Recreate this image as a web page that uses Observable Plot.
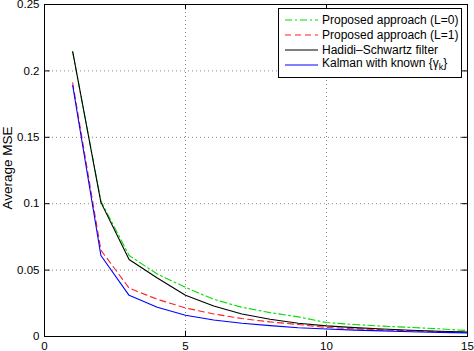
<!DOCTYPE html>
<html>
<head>
<meta charset="utf-8">
<script src="https://cdn.jsdelivr.net/npm/d3@7"></script>
<script src="https://cdn.jsdelivr.net/npm/@observablehq/plot@0.6"></script>
<style>
  html, body { margin: 0; padding: 0; background: #fff; }
  #wrap { position: relative; width: 474px; height: 351px; font-family: "Liberation Sans", Arial, sans-serif; }
  #legend {
    position: absolute; left: 278px; top: 8px; width: 184px; height: 70px;
    background: #fff; border: 1px solid #000; box-sizing: border-box;
    font-size: 12px; color: #000;
  }
  .row { position: absolute; left: 0; height: 15px; display: flex; align-items: center; }
  .row svg { margin-left: 6px; margin-right: 4px; }
  #ylab {
    position: absolute; left: 7px; top: 168px; transform: translate(-50%, -50%) rotate(-90deg);
    font-size: 13.5px; white-space: nowrap;
  }
</style>
</head>
<body>
<div id="wrap">
  <div id="chart"></div>
  <div id="legend"></div>
  <div id="ylab">Average MSE</div>
</div>
<script>
const steps = [1, 2, 3, 4, 5, 6, 7, 8, 9, 10, 11, 12, 13, 14, 15];
const proposedL0 = [0.214, 0.102, 0.061, 0.047, 0.037, 0.028, 0.022, 0.018, 0.0148, 0.0105, 0.009, 0.0078, 0.0068, 0.0058, 0.0045];
const proposedL1 = [0.191, 0.065, 0.0365, 0.028, 0.0215, 0.017, 0.0135, 0.011, 0.009, 0.0068, 0.0058, 0.005, 0.0043, 0.0037, 0.0032];
const hadidi = [0.2145, 0.101, 0.058, 0.044, 0.031, 0.023, 0.017, 0.013, 0.010, 0.0080, 0.0067, 0.0056, 0.0047, 0.004, 0.0034];
const kalman = [0.189, 0.061, 0.031, 0.022, 0.016, 0.0124, 0.010, 0.0082, 0.0066, 0.0056, 0.0048, 0.0042, 0.0036, 0.0031, 0.0027];
const xTicks = [0, 5, 10, 15];
const yTicks = [0, 0.05, 0.1, 0.15, 0.2, 0.25];
const seriesNames = ["Proposed approach (L=0)", "Proposed approach (L=1)", "Hadidi\u2013Schwartz filter", "Kalman with known"];

const seriesDefs = [
  {name: seriesNames[0], values: proposedL0, color: "#00e000", dash: "7,3,2,3"},
  {name: seriesNames[1], values: proposedL1, color: "#ff2020", dash: "6,4"},
  {name: seriesNames[2], values: hadidi, color: "#000000", dash: null},
  {name: seriesNames[3], values: kalman, color: "#0000ff", dash: null}
];

const lineMarks = seriesDefs.map(s =>
  Plot.line(steps.map((x, i) => ({x, y: s.values[i]})), {
    x: "x", y: "y", stroke: s.color, strokeWidth: 1.1,
    strokeDasharray: s.dash ?? undefined
  })
);

const fmt = d => String(+d.toFixed(2));

const chart = Plot.plot({
  width: 474,
  height: 351,
  marginLeft: 44,
  marginRight: 7,
  marginTop: 4,
  marginBottom: 15,
  style: {fontFamily: "'Liberation Sans', Arial, sans-serif", fontSize: "11.5px", color: "#000", background: "#fff"},
  x: {domain: [0, 15]},
  y: {domain: [0, 0.25]},
  marks: [
    Plot.gridX(xTicks.slice(1, -1), {stroke: "#888", strokeOpacity: 1, strokeDasharray: "1,3"}),
    Plot.gridY(yTicks.slice(1, -1), {stroke: "#888", strokeOpacity: 1, strokeDasharray: "1,3"}),
    ...lineMarks,
    Plot.ruleY(yTicks, {x1: 0, x2: 0.2, stroke: "#000"}),
    Plot.ruleY(yTicks, {x1: 14.8, x2: 15, stroke: "#000"}),
    Plot.ruleX(xTicks, {y1: 0, y2: 0.004, stroke: "#000"}),
    Plot.ruleX(xTicks, {y1: 0.246, y2: 0.25, stroke: "#000"}),
    Plot.axisX(xTicks, {tickSize: 0, tickPadding: 5, tickFormat: d => String(d), label: null}),
    Plot.axisY(yTicks, {tickSize: 0, tickPadding: 5, tickFormat: fmt, label: null}),
    Plot.frame({stroke: "#000", strokeWidth: 1})
  ]
});
document.getElementById("chart").appendChild(chart);

// legend
const legend = document.getElementById("legend");
seriesDefs.forEach((s, i) => {
  const row = document.createElement("div");
  row.className = "row";
  row.style.top = (3 + i * 15) + "px";
  const sw = `<svg width="33" height="6"><line x1="0" x2="33" y1="3" y2="3" stroke="${s.color}" stroke-width="1.2" ${s.dash ? `stroke-dasharray="${s.dash}"` : ""}/></svg>`;
  const label = i === 3 ? `${s.name} {&gamma;<sub style="font-size:9px">k</sub>}` : s.name;
  row.innerHTML = sw + `<span>${label}</span>`;
  legend.appendChild(row);
});
</script>
</body>
</html>
